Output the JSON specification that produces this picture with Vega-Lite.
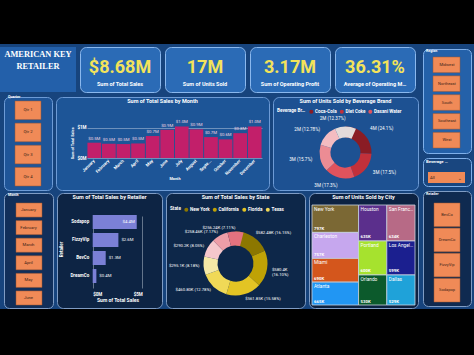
{
  "$schema": "https://vega.github.io/schema/vega-lite/v6.json",
  "background": "#17447d",
  "padding": 0,
  "spacing": 0,
  "resolve": {"scale": {"color": "independent", "theta": "independent", "x": "independent", "y": "independent"}, "legend": {"color": "independent"}},
  "config": {
    "font": "Roboto",
    "view": {"stroke": null},
    "axis": {"labelColor": "#ffffff", "titleColor": "#ffffff", "labelFontWeight": "bold", "titleFontWeight": "bold", "labelFontSize": 4.5, "titleFontSize": 4.5, "ticks": false, "domain": false, "gridColor": "#dfe6f0", "gridOpacity": 0.7, "gridWidth": 0.6},
    "title": {"color": "#ffffff", "fontWeight": "bold", "fontSize": 5.5, "anchor": "middle", "frame": "group", "baseline": "middle", "offset": -7},
    "legend": {"orient": "none", "direction": "horizontal", "titleOrient": "left", "labelColor": "#ffffff", "titleColor": "#ffffff", "labelFontSize": 4.6, "titleFontSize": 4.6, "labelFontWeight": "bold", "titleFontWeight": "bold", "symbolType": "circle", "symbolSize": 16, "symbolStrokeWidth": 0, "columnPadding": 2.5, "labelOffset": 1.5, "titlePadding": 3, "padding": 0}
  },
  "vconcat": [
    {"width": 474, "height": 44, "view": {"fill": "#000000", "stroke": null}, "data": {"values": []}, "mark": {"type": "text", "text": ""}, "encoding": {}},
    {"hconcat": [
      {"vconcat": [
        {"width": 1, "height": 1, "data": {"values": []}, "mark": {"type": "text", "text": ""}, "encoding": {}},
        {"hconcat": [
          {"width": 76, "height": 45, "view": {"fill": "#2360aa", "stroke": null}, "data": {"values": [{"name": "AMERICAN KEY\nRETAILER"}]},
           "mark": {"type": "text", "font": "Liberation Serif", "fontWeight": "bold", "fontSize": 8.4, "color": "#ffffff", "lineBreak": "\n", "lineHeight": 12, "dy": -16, "clip": true},
           "encoding": {"text": {"field": "name"}}},
          {"width": 80, "height": 45, "view": {"fill": "#2b6bb6", "stroke": "#8ab8ee", "strokeWidth": 1, "cornerRadius": 6},
           "data": {"values": [{"metric": "Sum of Total Sales", "value": "$8.68M"}]},
           "layer": [
             {"mark": {"type": "text", "fontSize": 18, "fontWeight": "bold", "color": "#f3e35a", "dy": -2, "clip": true}, "encoding": {"text": {"field": "value"}}},
             {"mark": {"type": "text", "fontSize": 5.5, "fontWeight": "bold", "color": "#ffffff", "dy": 14, "limit": 64, "clip": true}, "encoding": {"text": {"field": "metric"}}}
           ]},
          {"width": 80, "height": 45, "view": {"fill": "#2b6bb6", "stroke": "#8ab8ee", "strokeWidth": 1, "cornerRadius": 6},
           "data": {"values": [{"metric": "Sum of Units Sold", "value": "17M"}]},
           "layer": [
             {"mark": {"type": "text", "fontSize": 18, "fontWeight": "bold", "color": "#f3e35a", "dy": -2, "clip": true}, "encoding": {"text": {"field": "value"}}},
             {"mark": {"type": "text", "fontSize": 5.5, "fontWeight": "bold", "color": "#ffffff", "dy": 14, "limit": 64, "clip": true}, "encoding": {"text": {"field": "metric"}}}
           ]},
          {"width": 80, "height": 45, "view": {"fill": "#2b6bb6", "stroke": "#8ab8ee", "strokeWidth": 1, "cornerRadius": 6},
           "data": {"values": [{"metric": "Sum of Operating Profit", "value": "3.17M"}]},
           "layer": [
             {"mark": {"type": "text", "fontSize": 18, "fontWeight": "bold", "color": "#f3e35a", "dy": -2, "clip": true}, "encoding": {"text": {"field": "value"}}},
             {"mark": {"type": "text", "fontSize": 5.5, "fontWeight": "bold", "color": "#ffffff", "dy": 14, "limit": 64, "clip": true}, "encoding": {"text": {"field": "metric"}}}
           ]},
          {"width": 80, "height": 45, "view": {"fill": "#2b6bb6", "stroke": "#8ab8ee", "strokeWidth": 1, "cornerRadius": 6},
           "data": {"values": [{"metric": "Average of Operating Margin", "value": "36.31%"}]},
           "layer": [
             {"mark": {"type": "text", "fontSize": 18, "fontWeight": "bold", "color": "#f3e35a", "dy": -2, "clip": true}, "encoding": {"text": {"field": "value"}}},
             {"mark": {"type": "text", "fontSize": 5.5, "fontWeight": "bold", "color": "#ffffff", "dy": 14, "limit": 64, "clip": true}, "encoding": {"text": {"field": "metric"}}}
           ]}
        ], "spacing": 3, "resolve": {"scale": {"color": "independent", "theta": "independent", "x": "independent", "y": "independent"}, "legend": {"color": "independent"}}},
        {"hconcat": [
          {"width": 1, "height": 1, "data": {"values": []}, "mark": {"type": "text", "text": ""}, "encoding": {}},
          {"width": 48, "height": 93, "view": {"fill": "#1f5598", "stroke": "#6d9bd6", "cornerRadius": 5},
           "title": {"text": "Quarter", "anchor": "start", "fontSize": 3.6, "offset": -2, "dx": 4},
           "data": {"values": [{"q": "Qtr 1"}, {"q": "Qtr 2"}, {"q": "Qtr 3"}, {"q": "Qtr 4"}]},
           "encoding": {"y": {"field": "q", "type": "nominal", "sort": null, "axis": null, "scale": {"range": [4, 89], "paddingInner": 0.16, "paddingOuter": 0}}},
           "layer": [
             {"mark": {"type": "rect", "color": "#f08a57", "stroke": "#9c5632", "strokeWidth": 0.5},
              "encoding": {"x": {"datum": 0, "type": "quantitative", "scale": {"domain": [0, 1], "range": [11, 37]}, "axis": null}, "x2": {"datum": 1}}},
             {"mark": {"type": "text", "fontSize": 4.2, "color": "#3b2417", "clip": true}, "encoding": {"text": {"field": "q"}}}
           ]},
          {"width": 213, "height": 93, "view": {"fill": "#1d5597", "stroke": "#6d9bd6", "cornerRadius": 6},
           "title": {"text": "Sum of Total Sales by Month"},
           "data": {"values": [
             {"month": "January", "sales": 0.505}, {"month": "February", "sales": 0.47}, {"month": "March", "sales": 0.46},
             {"month": "April", "sales": 0.48}, {"month": "May", "sales": 0.725}, {"month": "June", "sales": 0.93},
             {"month": "July", "sales": 1.04}, {"month": "August", "sales": 0.945}, {"month": "September", "sales": 0.69},
             {"month": "October", "sales": 0.615}, {"month": "November", "sales": 0.82}, {"month": "December", "sales": 1.04}]},
           "transform": [{"calculate": "'$' + format(datum.sales, '.1f') + 'M'", "as": "lbl"}],
           "encoding": {
             "x": {"field": "month", "type": "nominal", "sort": null, "scale": {"range": [31, 206], "paddingInner": 0.06, "paddingOuter": 0.03},
                   "axis": {"title": "Month", "orient": "bottom", "offset": -32, "labelAngle": -45, "labelAlign": "right", "labelBaseline": "middle", "labelPadding": 2, "labelFontSize": 4.3, "titleFontSize": 3.8, "titlePadding": 1, "labelExpr": "datum.label == 'September' ? 'Septe...' : datum.label"}},
             "y": {"field": "sales", "type": "quantitative", "scale": {"domain": [0, 1], "range": [61, 30.7], "nice": false},
                   "axis": {"title": "Sum of Total Sales", "values": [0, 1], "labelExpr": "'$' + datum.value + 'M'", "grid": true, "offset": -31, "labelPadding": 1, "titleFontSize": 3.8, "titlePadding": 2}}
           },
           "layer": [
             {"mark": {"type": "bar", "color": "#c21f6a"}},
             {"mark": {"type": "text", "dy": -4, "fontSize": 4.3, "color": "#f5d7e3", "clip": true}, "encoding": {"text": {"field": "lbl"}}}
           ]},
          {"width": 145, "height": 93, "view": {"fill": "#1d5192", "stroke": "#6d9bd6", "cornerRadius": 6},
           "title": {"text": "Sum of Units Sold by Beverage Brand"},
           "data": {"values": [
             {"brand": "Coca-Cola", "units": 4.1, "label": "4M (24.1%)"},
             {"brand": "Diet Coke", "units": 2.98, "label": "3M (17.5%)"},
             {"brand": "Dasani Water", "units": 2.94, "label": "3M (17.3%)"},
             {"brand": "Sprite", "units": 2.67, "label": "3M (15.7%)"},
             {"brand": "Fanta", "units": 2.17, "label": "2M (12.78%)"},
             {"brand": "Powerade", "units": 2.1, "label": "2M (12.37%)"}]},
           "transform": [
             {"stack": "units", "groupby": [], "sort": [{"field": "units", "order": "descending"}], "as": ["t0", "t1"]},
             {"calculate": "(datum.t0 + datum.t1) / 2", "as": "tm"}
           ],
           "layer": [
             {"mark": {"type": "arc", "outerRadius": 26, "innerRadius": 15, "yOffset": 9},
              "encoding": {"theta": {"field": "t0", "type": "quantitative"}, "theta2": {"field": "t1"},
                "color": {"field": "brand", "type": "nominal", "sort": null,
                  "scale": {"domain": ["Coca-Cola", "Diet Coke", "Dasani Water", "Sprite", "Fanta", "Powerade"], "range": ["#8a1c24", "#c2303a", "#e0535d", "#ec8c94", "#f4bcc1", "#e2dada"]},
                  "legend": {"title": "Beverage Brand", "titleLimit": 30, "values": ["Coca-Cola", "Diet Coke", "Dasani Water"], "legendX": 4, "legendY": 12}}}},
             {"transform": [{"filter": {"field": "brand", "oneOf": ["Coca-Cola", "Diet Coke"]}}],
              "mark": {"type": "text", "radius": 34, "yOffset": 9, "align": "left", "fontSize": 4.6, "color": "#ffffff", "clip": true},
              "encoding": {"theta": {"field": "tm", "type": "quantitative"}, "text": {"field": "label"}}},
             {"transform": [{"filter": {"not": {"field": "brand", "oneOf": ["Coca-Cola", "Diet Coke"]}}}],
              "mark": {"type": "text", "radius": 34, "yOffset": 9, "align": "right", "fontSize": 4.6, "color": "#ffffff", "clip": true},
              "encoding": {"theta": {"field": "tm", "type": "quantitative"}, "text": {"field": "label"}}}
           ]}
        ], "spacing": 2, "resolve": {"scale": {"color": "independent", "theta": "independent", "x": "independent", "y": "independent"}, "legend": {"color": "independent"}}},
        {"hconcat": [
          {"width": 1, "height": 1, "data": {"values": []}, "mark": {"type": "text", "text": ""}, "encoding": {}},
          {"width": 49, "height": 115, "view": {"fill": "#112f5a", "stroke": "#7f9cc4", "cornerRadius": 5},
           "title": {"text": "Month", "anchor": "start", "fontSize": 3.6, "offset": -4, "dx": 4},
           "data": {"values": [{"m": "January"}, {"m": "February"}, {"m": "March"}, {"m": "April"}, {"m": "May"}, {"m": "June"}]},
           "encoding": {"y": {"field": "m", "type": "nominal", "sort": null, "axis": null, "scale": {"range": [10, 112], "paddingInner": 0.2, "paddingOuter": 0}}},
           "layer": [
             {"mark": {"type": "rect", "color": "#f08a57", "stroke": "#9c5632", "strokeWidth": 0.5},
              "encoding": {"x": {"datum": 0, "type": "quantitative", "scale": {"domain": [0, 1], "range": [12, 38]}, "axis": null}, "x2": {"datum": 1}}},
             {"mark": {"type": "text", "fontSize": 4.2, "color": "#3b2417", "clip": true}, "encoding": {"text": {"field": "m"}}}
           ]},
          {"width": 105, "height": 115, "view": {"fill": "#0d2444", "stroke": "#7f9cc4", "cornerRadius": 6},
           "title": {"text": "Sum of Total Sales by Retailer"},
           "data": {"values": [{"retailer": "Sodapop", "sales": 4.44}, {"retailer": "FizzyVip", "sales": 2.59}, {"retailer": "BevCo", "sales": 1.31}, {"retailer": "DreamCo", "sales": 0.37}]},
           "transform": [{"calculate": "'$' + format(datum.sales, '.1f') + 'M'", "as": "lbl"}],
           "encoding": {
             "y": {"field": "retailer", "type": "nominal", "sort": ["Sodapop", "FizzyVip", "BevCo", "DreamCo"], "scale": {"range": [20, 92], "paddingInner": 0.22, "paddingOuter": 0.11},
                   "axis": {"title": "Retailer", "offset": -35.7, "labelPadding": 4, "titlePadding": 6}},
             "x": {"field": "sales", "type": "quantitative", "scale": {"domain": [0, 5], "range": [35.7, 85.3], "nice": false},
                   "axis": {"title": "Sum of Total Sales", "values": [0, 5], "labelExpr": "'$' + datum.value + 'M'", "grid": true, "offset": -19, "titleFontSize": 5, "labelPadding": 2, "titlePadding": 2}}
           },
           "layer": [
             {"mark": {"type": "bar", "color": "#7b80d6"}},
             {"transform": [{"filter": "datum.sales > 4"}], "mark": {"type": "text", "align": "right", "dx": -2, "fontSize": 4.3, "color": "#ffffff", "clip": true}, "encoding": {"text": {"field": "lbl"}}},
             {"transform": [{"filter": "datum.sales <= 4"}], "mark": {"type": "text", "align": "left", "dx": 3, "fontSize": 4.3, "color": "#ffffff", "clip": true}, "encoding": {"text": {"field": "lbl"}}}
           ]},
          {"width": 139, "height": 115, "view": {"fill": "#0d2749", "stroke": "#7f9cc4", "cornerRadius": 6},
           "title": {"text": "Sum of Total Sales by State"},
           "data": {"values": [
             {"state": "New York", "sales": 582.48, "label": "$582.48K (16.15%)"},
             {"state": "California", "sales": 580.4, "label": "$580.4K\n(16.10%)"},
             {"state": "Florida", "sales": 561.85, "label": "$561.85K (15.58%)"},
             {"state": "Texas", "sales": 460.8, "label": "$460.80K (12.78%)"},
             {"state": "Louisiana", "sales": 295.1, "label": "$295.1K (8.18%)"},
             {"state": "Washington", "sales": 290.2, "label": "$290.2K (8.05%)"},
             {"state": "Alabama", "sales": 258.46, "label": "$258.46K (7.17%)"},
             {"state": "South Carolina", "sales": 256.24, "label": "$256.24K (7.11%)"}]},
           "transform": [
             {"stack": "sales", "groupby": [], "sort": [{"field": "sales", "order": "descending"}], "as": ["t0", "t1"]},
             {"calculate": "(datum.t0 + datum.t1) / 2", "as": "tm"}
           ],
           "layer": [
             {"mark": {"type": "arc", "outerRadius": 32, "innerRadius": 18, "yOffset": 13},
              "encoding": {"theta": {"field": "t0", "type": "quantitative"}, "theta2": {"field": "t1"},
                "color": {"field": "state", "type": "nominal", "sort": null,
                  "scale": {"domain": ["New York", "California", "Florida", "Texas", "Louisiana", "Washington", "Alabama", "South Carolina"], "range": ["#8c7700", "#bfa205", "#e3c424", "#f0d957", "#f5e9a6", "#f5c7cc", "#ee9ea8", "#e3727f"]},
                  "legend": {"title": "State", "values": ["New York", "California", "Florida", "Texas"], "legendX": 4, "legendY": 14}}}},
             {"transform": [{"filter": {"field": "state", "oneOf": ["New York", "California", "Florida"]}}],
              "mark": {"type": "text", "radius": 37, "yOffset": 13, "align": "left", "fontSize": 4.2, "color": "#ffffff", "lineBreak": "\n", "lineHeight": 5.5, "clip": true},
              "encoding": {"theta": {"field": "tm", "type": "quantitative"}, "text": {"field": "label"}}},
             {"transform": [{"filter": {"not": {"field": "state", "oneOf": ["New York", "California", "Florida"]}}}],
              "mark": {"type": "text", "radius": 36, "yOffset": 13, "align": "right", "fontSize": 4.2, "color": "#ffffff", "clip": true},
              "encoding": {"theta": {"field": "tm", "type": "quantitative"}, "text": {"field": "label"}}}
           ]},
          {"width": 109, "height": 115, "view": {"fill": "#0c2242", "stroke": "#7f9cc4", "cornerRadius": 6},
           "title": {"text": "Sum of Units Sold by City"},
           "data": {"values": [
             {"city": "New York", "grp": "A", "units": 797000},
             {"city": "Charleston", "grp": "A", "units": 757000},
             {"city": "Miami", "grp": "A", "units": 690000},
             {"city": "Atlanta", "grp": "A", "units": 665000},
             {"city": "Houston", "grp": "B", "units": 635000},
             {"city": "Portland", "grp": "B", "units": 600000},
             {"city": "Orlando", "grp": "B", "units": 530000},
             {"city": "San Francisco", "grp": "C", "units": 634000},
             {"city": "Los Angeles", "grp": "C", "units": 599000},
             {"city": "Dallas", "grp": "C", "units": 529000}]},
           "transform": [
             {"stack": "units", "groupby": [], "sort": [{"field": "grp"}, {"field": "units", "order": "descending"}], "as": ["sx0", "sx1"], "offset": "normalize"},
             {"joinaggregate": [{"op": "min", "field": "sx0", "as": "cx0"}, {"op": "max", "field": "sx1", "as": "cx1"}], "groupby": ["grp"]},
             {"stack": "units", "groupby": ["grp"], "sort": [{"field": "units", "order": "descending"}], "as": ["cy0", "cy1"], "offset": "normalize"},
             {"calculate": "format(datum.units / 1000, '.0f') + 'K'", "as": "lbl"}
           ],
           "encoding": {
             "x": {"field": "cx0", "type": "quantitative", "scale": {"domain": [0, 1], "range": [3, 106], "nice": false, "zero": false}, "axis": null},
             "y": {"field": "cy0", "type": "quantitative", "scale": {"domain": [0, 1], "range": [12, 112], "nice": false, "zero": false}, "axis": null}
           },
           "layer": [
             {"mark": {"type": "rect", "stroke": "#c9d3df", "strokeWidth": 0.8},
              "encoding": {"x2": {"field": "cx1"}, "y2": {"field": "cy1"},
                "color": {"field": "city", "type": "nominal", "legend": null,
                  "scale": {"domain": ["New York", "Charleston", "Miami", "Atlanta", "Houston", "Portland", "Orlando", "San Francisco", "Los Angeles", "Dallas"],
                            "range": ["#7b6834", "#c6a7ee", "#d4561c", "#2196f3", "#5b2f8c", "#a6e22e", "#0c5a2c", "#b76a86", "#1b1f8f", "#1fa2d9"]}}}},
             {"mark": {"type": "text", "align": "left", "baseline": "top", "dx": 2, "dy": 2, "fontSize": 4.8, "color": "#ffffff", "limit": 25, "clip": true}, "encoding": {"text": {"field": "city"}}},
             {"mark": {"type": "text", "align": "left", "baseline": "bottom", "dx": 2, "dy": -1.5, "fontSize": 4.3, "fontWeight": "bold", "color": "#ffffff", "clip": true}, "encoding": {"y": {"field": "cy1", "type": "quantitative"}, "text": {"field": "lbl"}}}
           ]}
        ], "spacing": 2, "resolve": {"scale": {"color": "independent", "theta": "independent", "x": "independent", "y": "independent"}, "legend": {"color": "independent"}}}
      ], "spacing": 1, "resolve": {"scale": {"color": "independent", "theta": "independent", "x": "independent", "y": "independent"}, "legend": {"color": "independent"}}},
      {"vconcat": [
        {"width": 1, "height": 1, "data": {"values": []}, "mark": {"type": "text", "text": ""}, "encoding": {}},
        {"width": 48, "height": 104, "view": {"fill": "#2461a9", "stroke": "#7fb0ea", "cornerRadius": 5},
         "title": {"text": "Region", "anchor": "start", "fontSize": 3.6, "offset": -4, "dx": 3},
         "data": {"values": [{"r": "Midwest"}, {"r": "Northeast"}, {"r": "South"}, {"r": "Southeast"}, {"r": "West"}]},
         "encoding": {"y": {"field": "r", "type": "nominal", "sort": null, "axis": null, "scale": {"range": [8, 99], "paddingInner": 0.17, "paddingOuter": 0}}},
         "layer": [
           {"mark": {"type": "rect", "color": "#f08a57", "stroke": "#9c5632", "strokeWidth": 0.5},
            "encoding": {"x": {"datum": 0, "type": "quantitative", "scale": {"domain": [0, 1], "range": [10, 37]}, "axis": null}, "x2": {"datum": 1}}},
           {"mark": {"type": "text", "fontSize": 4, "color": "#3b2417", "limit": 22, "clip": true}, "encoding": {"text": {"field": "r"}}}
         ]},
        {"width": 48, "height": 28, "view": {"fill": "#19467f", "stroke": "#7fb0ea", "cornerRadius": 5},
         "title": {"text": "Beverage Brand", "anchor": "start", "fontSize": 4.2, "offset": -6, "dx": 3, "limit": 24},
         "data": {"values": [{"sel": "All"}]},
         "encoding": {"y": {"datum": 0, "type": "quantitative", "scale": {"domain": [0, 1], "range": [25, 14]}, "axis": null}},
         "layer": [
           {"mark": {"type": "rect", "color": "#f08a57"},
            "encoding": {"x": {"datum": 0, "type": "quantitative", "scale": {"domain": [0, 1], "range": [5, 42]}, "axis": null}, "x2": {"datum": 1}, "y2": {"datum": 1}}},
           {"mark": {"type": "text", "align": "left", "dx": 2, "dy": -5.5, "fontSize": 4.2, "color": "#3b2417", "clip": true},
            "encoding": {"x": {"datum": 0, "type": "quantitative"}, "text": {"field": "sel"}}},
           {"mark": {"type": "text", "align": "right", "dx": -3, "dy": -5.5, "fontSize": 5, "color": "#3b2417", "font": "DejaVu Sans", "text": "⌄", "clip": true},
            "encoding": {"x": {"datum": 1, "type": "quantitative"}}}
         ]},
        {"width": 48, "height": 115, "view": {"fill": "#0f2a50", "stroke": "#7f9cc4", "cornerRadius": 5},
         "title": {"text": "Retailer", "anchor": "start", "fontSize": 3.6, "offset": -5, "dx": 3},
         "data": {"values": [{"r": "BevCo"}, {"r": "DreamCo"}, {"r": "FizzyVip"}, {"r": "Sodapop"}]},
         "encoding": {"y": {"field": "r", "type": "nominal", "sort": null, "axis": null, "scale": {"range": [12, 111], "paddingInner": 0.06, "paddingOuter": 0}}},
         "layer": [
           {"mark": {"type": "rect", "color": "#f08a57", "stroke": "#9c5632", "strokeWidth": 0.5},
            "encoding": {"x": {"datum": 0, "type": "quantitative", "scale": {"domain": [0, 1], "range": [11, 37]}, "axis": null}, "x2": {"datum": 1}}},
           {"mark": {"type": "text", "fontSize": 4, "color": "#3b2417", "clip": true}, "encoding": {"text": {"field": "r"}}}
         ]}
      ], "spacing": 3, "resolve": {"scale": {"color": "independent", "theta": "independent", "x": "independent", "y": "independent"}, "legend": {"color": "independent"}}}
    ], "spacing": 3, "resolve": {"scale": {"color": "independent", "theta": "independent", "x": "independent", "y": "independent"}, "legend": {"color": "independent"}}},
    {"width": 474, "height": 48, "view": {"fill": "#000000", "stroke": null}, "data": {"values": []}, "mark": {"type": "text", "text": ""}, "encoding": {}}
  ]
}
